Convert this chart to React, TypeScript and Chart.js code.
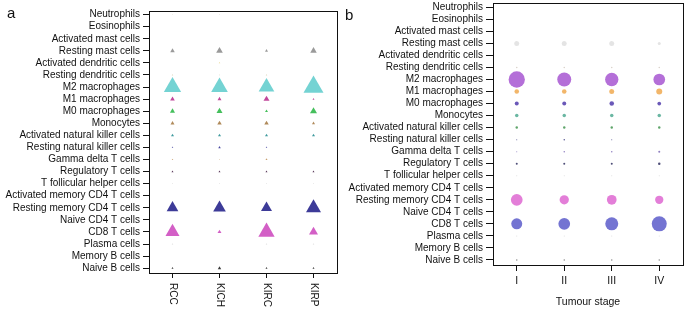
import React, { useEffect, useRef } from "react";
import { Chart, registerables } from "chart.js";

Chart.register(...registerables);

const FONT = "'Liberation Sans', Arial, Helvetica, sans-serif";

const CELL_TYPES = [
  "Neutrophils",
  "Eosinophils",
  "Activated mast cells",
  "Resting mast cells",
  "Activated dendritic cells",
  "Resting dendritic cells",
  "M2 macrophages",
  "M1 macrophages",
  "M0 macrophages",
  "Monocytes",
  "Activated natural killer cells",
  "Resting natural killer cells",
  "Gamma delta T cells",
  "Regulatory T cells",
  "T follicular helper cells",
  "Activated memory CD4 T cells",
  "Resting memory CD4 T cells",
  "Naive CD4 T cells",
  "CD8 T cells",
  "Plasma cells",
  "Memory B cells",
  "Naive B cells",
];

// Panel a: estimated mean fraction (%) per cell type, in CELL_TYPES order
const CANCER_TYPES = ["RCC", "KICH", "KIRC", "KIRP"];
const RCC = [0.08, 0, 0, 1.7, 0, 0.19, 24.9, 1.8, 2.1, 1.3, 0.75, 0.19, 0.19, 0.33, 0.08, 0, 11.4, 0, 16.3, 0.19, 0, 0.33];
const KICH = [0.08, 0, 0, 3.7, 0.19, 0.12, 23.2, 1.3, 3.0, 1.7, 0.75, 0.52, 0.08, 0.33, 0.08, 0, 13.4, 0, 1.3, 0, 0, 1.0];
const KIRC = [0, 0, 0, 0.75, 0, 0.19, 20.5, 3.0, 0.75, 1.7, 0.75, 0.19, 0.33, 0.33, 0.08, 0, 10.1, 0, 22.1, 0.19, 0, 0.33];
const KIRP = [0, 0, 0, 3.5, 0, 0, 33.3, 0.33, 4.1, 0.75, 0.75, 0, 0, 0.33, 0.08, 0, 18.75, 0, 6.75, 0.19, 0, 0.33];

// Panel b: estimated mean fraction (%) per tumour stage
const STAGES = ["I", "II", "III", "IV"];
const STAGE_I = [0, 0, 0, 2.44, 0, 0.22, 25.9, 2.0, 1.56, 1.2, 0.61, 0.1, 0.1, 0.39, 0.1, 0, 13.4, 0, 11.8, 0.1, 0, 0.22];
const STAGE_II = [0, 0, 0, 2.44, 0, 0.22, 19.1, 2.0, 1.56, 1.2, 0.61, 0.22, 0.22, 0.39, 0.1, 0, 8.4, 0, 13.4, 0.1, 0, 0.22];
const STAGE_III = [0, 0, 0, 2.44, 0, 0.22, 17.3, 2.44, 2.0, 1.2, 0.61, 0.1, 0.22, 0.39, 0.1, 0, 9.2, 0, 16.5, 0.1, 0, 0.22];
const STAGE_IV = [0, 0, 0, 0.88, 0, 0.22, 13.4, 3.5, 1.34, 1.2, 0.61, 0, 0.39, 0.61, 0.1, 0, 6.7, 0, 22.0, 0.1, 0, 0.22];

const COLORS_A = [
  "#e6e2d6", "#e0e0e0", "#e0e0e0", "#9a9a9a", "#e8d890", "#e0d8c0",
  "#74d3d3", "#c2479b", "#45bf5c", "#b08a5a", "#3f9a9e", "#4848a0",
  "#c8a070", "#553355", "#d8d8d8", "#cccccc", "#3d3b98", "#cccccc",
  "#d35fc6", "#d8d8d8", "#cccccc", "#3a3a3a",
];

const COLORS_B = [
  "#e0e0e0", "#e0e0e0", "#e0e0e0", "#e4e4e4", "#e0e0e0", "#d8d0c8",
  "#b46fd8", "#f2b66a", "#6a58b8", "#6bb7a3", "#5fa56a", "#555590",
  "#8f7fc0", "#4f4f78", "#d8d8d8", "#cccccc", "#e37ed8", "#cccccc",
  "#7474d2", "#d8d8d8", "#cccccc", "#8a8a8a",
];

type Pt = { x: number; y: number; v: number };

function buildPoints(cols: number[][]): Pt[] {
  const pts: Pt[] = [];
  cols.forEach((arr, xi) =>
    arr.forEach((v, yi) => {
      if (v > 0) pts.push({ x: xi, y: yi, v });
    })
  );
  return pts;
}

const boxPlugin = {
  id: "box",
  afterDraw(chart: any) {
    const { ctx, chartArea } = chart;
    ctx.save();
    ctx.strokeStyle = "#111";
    ctx.lineWidth = 1;
    ctx.strokeRect(
      Math.round(chartArea.left) + 0.5,
      Math.round(chartArea.top) + 0.5,
      Math.round(chartArea.right - chartArea.left),
      Math.round(chartArea.bottom - chartArea.top)
    );
    ctx.restore();
  },
};

const rotatedLabels = {
  id: "rotatedLabels",
  afterDraw(chart: any) {
    const { ctx, chartArea } = chart;
    const xs = chart.scales.x;
    ctx.save();
    ctx.font = `10px ${FONT}`;
    ctx.fillStyle = "#111";
    ctx.textAlign = "left";
    ctx.textBaseline = "middle";
    CANCER_TYPES.forEach((lab, i) => {
      ctx.save();
      ctx.translate(xs.getPixelForValue(i), chartArea.bottom + 10);
      ctx.rotate(Math.PI / 2);
      ctx.fillText(lab, 0, 0);
      ctx.restore();
    });
    ctx.restore();
  },
};

function yScale(min: number, max: number, width: number, tickLen: number) {
  return {
    type: "linear",
    reverse: true,
    min,
    max,
    afterBuildTicks: (s: any) => {
      s.ticks = CELL_TYPES.map((_, i) => ({ value: i }));
    },
    afterFit: (s: any) => {
      s.width = width;
      s.paddingTop = 0;
      s.paddingBottom = 0;
    },
    ticks: {
      autoSkip: false,
      padding: 3,
      color: "#111",
      font: { family: FONT, size: 10 },
      callback: (v: any) => CELL_TYPES[v] ?? "",
    },
    grid: { drawOnChartArea: false, drawTicks: true, tickLength: tickLen, color: "#111" },
    border: { display: true, color: "#111", width: 1 },
  };
}

export default function App() {
  const refA = useRef<HTMLCanvasElement>(null);
  const refB = useRef<HTMLCanvasElement>(null);

  useEffect(() => {
    const ptsA = buildPoints([RCC, KICH, KIRC, KIRP]);
    const chartA = new Chart(refA.current as HTMLCanvasElement, {
      type: "scatter",
      data: {
        datasets: [
          {
            data: ptsA as any,
            pointStyle: "triangle",
            pointRadius: (c: any) => 2 * Math.sqrt(c.raw.v),
            pointHoverRadius: (c: any) => 2 * Math.sqrt(c.raw.v),
            pointBackgroundColor: (c: any) => COLORS_A[c.raw.y],
            pointBorderWidth: 0,
            clip: false,
          } as any,
        ],
      },
      options: {
        animation: false,
        responsive: false,
        layout: { autoPadding: false, padding: { top: 11, right: 8, bottom: 0, left: 0 } },
        plugins: { legend: { display: false }, tooltip: { enabled: false } },
        scales: {
          x: {
            type: "linear",
            min: -0.5,
            max: 3.5,
            afterBuildTicks: (s: any) => {
              s.ticks = CANCER_TYPES.map((_, i) => ({ value: i }));
            },
            afterFit: (s: any) => {
              s.height = 36;
              s.paddingLeft = 0;
              s.paddingRight = 0;
            },
            ticks: { display: false },
            grid: { drawOnChartArea: false, drawTicks: true, tickLength: 5, color: "#111" },
            border: { display: true, color: "#111", width: 1 },
          } as any,
          y: yScale(-0.3, 21.4, 149, 6) as any,
        },
      },
      plugins: [boxPlugin, rotatedLabels],
    });

    const ptsB = buildPoints([STAGE_I, STAGE_II, STAGE_III, STAGE_IV]);
    const chartB = new Chart(refB.current as HTMLCanvasElement, {
      type: "scatter",
      data: {
        datasets: [
          {
            data: ptsB as any,
            pointStyle: "circle",
            pointRadius: (c: any) => 1.6 * Math.sqrt(c.raw.v),
            pointHoverRadius: (c: any) => 1.6 * Math.sqrt(c.raw.v),
            pointBackgroundColor: (c: any) => COLORS_B[c.raw.y],
            pointBorderWidth: 0,
            clip: false,
          } as any,
        ],
      },
      options: {
        animation: false,
        responsive: false,
        layout: { autoPadding: false, padding: { top: 3, right: 2, bottom: 0, left: 0 } },
        plugins: { legend: { display: false }, tooltip: { enabled: false } },
        scales: {
          x: {
            type: "linear",
            min: -0.5,
            max: 3.5,
            afterBuildTicks: (s: any) => {
              s.ticks = STAGES.map((_, i) => ({ value: i }));
            },
            afterFit: (s: any) => {
              s.height = 44;
              s.paddingLeft = 0;
              s.paddingRight = 0;
            },
            ticks: {
              padding: 4,
              color: "#111",
              font: { family: FONT, size: 10.5 },
              maxRotation: 0,
              autoSkip: false,
              callback: (v: any) => STAGES[v] ?? "",
            },
            title: {
              display: true,
              text: "Tumour stage",
              color: "#111",
              font: { family: FONT, size: 10.5 },
              padding: { top: 0, bottom: 1 },
            },
            grid: { drawOnChartArea: false, drawTicks: true, tickLength: 6, color: "#111" },
            border: { display: true, color: "#111", width: 1 },
          } as any,
          y: yScale(-0.36, 21.42, 148, 7) as any,
        },
      },
      plugins: [boxPlugin],
    });

    return () => {
      chartA.destroy();
      chartB.destroy();
    };
  }, []);

  return (
    <div
      style={{
        position: "absolute",
        left: 0,
        top: 0,
        width: 685,
        height: 309,
        background: "#fff",
        fontFamily: FONT,
        overflow: "hidden",
      }}
    >
      <canvas ref={refA} width={345} height={309} style={{ position: "absolute", left: 0, top: 0 }} />
      <canvas ref={refB} width={340} height={309} style={{ position: "absolute", left: 345, top: 0 }} />
      <div style={{ position: "absolute", left: 7, top: 5, fontSize: 15, lineHeight: "15px", color: "#111" }}>a</div>
      <div style={{ position: "absolute", left: 345, top: 7, fontSize: 15, lineHeight: "15px", color: "#111" }}>b</div>
    </div>
  );
}
